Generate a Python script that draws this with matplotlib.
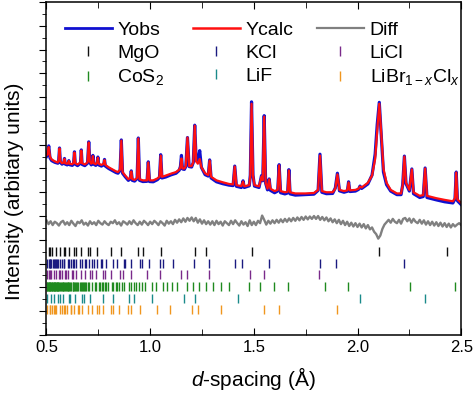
import matplotlib
matplotlib.use("Agg")
import matplotlib.pyplot as plt
from matplotlib.lines import Line2D
from matplotlib.ticker import MultipleLocator

plt.rcParams['font.family'] = ['Liberation Sans', 'DejaVu Sans']
plt.rcParams['mathtext.fontset'] = 'custom'
plt.rcParams['mathtext.rm'] = 'Liberation Sans'
plt.rcParams['mathtext.it'] = 'Liberation Sans:italic'

# profile: d-spacing (A), calculated and observed intensity (arb.)
d_prof = [0.500, 0.505, 0.511, 0.517, 0.525, 0.540, 0.555, 0.559, 0.563, 0.567,
          0.575, 0.583, 0.587, 0.591, 0.600, 0.605, 0.608, 0.611, 0.625, 0.631,
          0.635, 0.639, 0.650, 0.664, 0.668, 0.672, 0.685, 0.698, 0.704, 0.709,
          0.716, 0.720, 0.724, 0.728, 0.738, 0.744, 0.748, 0.752, 0.765, 0.776,
          0.780, 0.784, 0.800, 0.820, 0.835, 0.845, 0.855, 0.861, 0.867, 0.880,
          0.895, 0.904, 0.909, 0.914, 0.925, 0.937, 0.943, 0.949, 0.965, 0.985,
          0.991, 0.997, 1.015, 1.035, 1.045, 1.051, 1.057, 1.075, 1.100, 1.125,
          1.140, 1.146, 1.151, 1.156, 1.165, 1.172, 1.180, 1.188, 1.200, 1.208,
          1.215, 1.222, 1.230, 1.239, 1.247, 1.265, 1.280, 1.287, 1.294, 1.320,
          1.350, 1.380, 1.400, 1.408, 1.416, 1.440, 1.448, 1.454, 1.478, 1.483,
          1.489, 1.496, 1.503, 1.525, 1.537, 1.543, 1.550, 1.557, 1.566, 1.574,
          1.580, 1.600, 1.615, 1.622, 1.629, 1.650, 1.663, 1.669, 1.675, 1.700,
          1.750, 1.790, 1.810, 1.819, 1.828, 1.850, 1.880, 1.893, 1.903, 1.913,
          1.935, 1.951, 1.957, 1.963, 1.990, 2.005, 2.012, 2.020, 2.050, 2.070,
          2.085, 2.095, 2.105, 2.115, 2.125, 2.140, 2.160, 2.190, 2.210, 2.218,
          2.226, 2.234, 2.250, 2.262, 2.270, 2.300, 2.317, 2.326, 2.335, 2.380,
          2.420, 2.460, 2.470, 2.476, 2.482, 2.500]

y_calc = [7.55, 7.60, 7.90, 7.50, 7.38, 7.30, 7.25, 7.35, 7.84, 7.30,
          7.22, 7.25, 7.40, 7.22, 7.20, 7.22, 7.32, 7.20, 7.18, 7.25,
          7.67, 7.22, 7.17, 7.25, 7.75, 7.22, 7.17, 7.25, 8.09, 7.30,
          7.20, 7.25, 7.52, 7.22, 7.18, 7.25, 7.45, 7.20, 7.15, 7.20,
          7.35, 7.15, 7.05, 6.95, 6.88, 6.85, 6.95, 8.17, 6.85, 6.70,
          6.55, 6.60, 6.87, 6.55, 6.52, 6.60, 8.26, 6.55, 6.50, 6.50,
          7.25, 6.50, 6.50, 6.58, 6.65, 7.54, 6.65, 6.70, 6.78, 6.85,
          6.95, 7.05, 7.42, 7.00, 7.00, 7.10, 8.30, 7.10, 7.10, 7.25,
          8.80, 7.30, 7.20, 7.40, 7.05, 6.80, 6.72, 7.33, 6.65, 6.50,
          6.42, 6.35, 6.33, 7.08, 6.30, 6.26, 6.45, 6.25, 6.30, 6.70,
          9.72, 6.70, 6.30, 6.25, 6.66, 6.50, 9.18, 6.40, 6.15, 6.54,
          6.15, 6.05, 6.10, 7.13, 6.05, 6.00, 6.02, 6.92, 6.00, 5.95,
          5.95, 5.97, 6.10, 7.54, 6.05, 6.00, 6.00, 6.15, 6.75, 6.10,
          6.05, 6.08, 6.41, 6.08, 6.10, 6.15, 6.24, 6.20, 6.40, 6.70,
          7.40, 8.60, 9.72, 8.40, 7.00, 6.40, 6.10, 5.95, 5.95, 6.30,
          7.50, 6.40, 6.10, 6.96, 6.00, 5.85, 5.88, 7.00, 5.85, 5.75,
          5.68, 5.62, 5.75, 6.83, 5.70, 5.55]

y_obs = [7.50, 7.58, 7.95, 7.45, 7.33, 7.26, 7.22, 7.33, 7.86, 7.26,
         7.18, 7.22, 7.42, 7.18, 7.15, 7.20, 7.33, 7.16, 7.13, 7.22,
         7.70, 7.18, 7.12, 7.22, 7.78, 7.17, 7.12, 7.22, 8.12, 7.26,
         7.15, 7.22, 7.55, 7.18, 7.13, 7.22, 7.48, 7.15, 7.10, 7.16,
         7.38, 7.10, 7.00, 6.90, 6.83, 6.80, 6.92, 8.20, 6.80, 6.65,
         6.50, 6.57, 6.90, 6.50, 6.47, 6.57, 8.28, 6.50, 6.45, 6.46,
         7.28, 6.45, 6.44, 6.53, 6.62, 7.58, 6.60, 6.64, 6.73, 6.80,
         6.92, 7.08, 7.55, 6.98, 6.96, 7.08, 8.30, 7.08, 7.06, 7.25,
         8.82, 7.32, 7.30, 7.75, 7.05, 6.74, 6.68, 7.36, 6.60, 6.44,
         6.36, 6.30, 6.28, 7.10, 6.25, 6.20, 6.48, 6.20, 6.27, 6.72,
         9.80, 6.72, 6.26, 6.20, 6.70, 6.48, 9.22, 6.38, 6.10, 6.56,
         6.08, 5.98, 6.05, 7.16, 5.98, 5.93, 5.97, 6.95, 5.93, 5.88,
         5.90, 5.92, 6.08, 7.60, 6.00, 5.94, 5.95, 6.18, 6.80, 6.06,
         6.00, 6.04, 6.44, 6.03, 6.05, 6.12, 6.26, 6.16, 6.35, 6.72,
         7.60, 8.85, 9.78, 8.30, 6.85, 6.32, 6.05, 5.90, 5.90, 6.32,
         7.52, 6.36, 6.05, 6.98, 5.94, 5.78, 5.82, 7.02, 5.78, 5.68,
         5.60, 5.55, 5.72, 6.85, 5.64, 5.48]

# difference curve (offset), sampled every 0.01 A from 0.50 to 2.50
d_diff = [round(0.50 + 0.01 * i, 2) for i in range(201)]
y_diff = [4.82, 4.66, 4.78, 4.62, 4.76, 4.70, 4.60, 4.74, 4.80, 4.64,
          4.74, 4.62, 4.80, 4.68, 4.58, 4.76, 4.70, 4.82, 4.64, 4.72,
          4.60, 4.78, 4.66, 4.74, 4.62, 4.80, 4.70, 4.64, 4.78, 4.68,
          4.62, 4.76, 4.70, 4.82, 4.66, 4.74, 4.60, 4.78, 4.72, 4.64,
          4.78, 4.66, 4.82, 4.70, 4.62, 4.76, 4.64, 4.80, 4.72, 4.62,
          4.76, 4.66, 4.80, 4.72, 4.62, 4.78, 4.70, 4.60, 4.80, 4.68,
          4.78, 4.66, 4.84, 4.72, 4.86, 4.74, 4.90, 4.76, 4.92, 4.80,
          4.94, 4.78, 4.92, 4.72, 4.86, 4.68, 4.82, 4.66, 4.78, 4.64,
          4.78, 4.62, 4.80, 4.66, 4.76, 4.60, 4.78, 4.70, 4.62, 4.80,
          4.66, 4.82, 4.70, 4.60, 4.78, 4.64, 4.74, 4.58, 4.82, 4.62,
          4.76, 4.62, 4.80, 4.70, 5.02, 4.84, 4.64, 4.80, 4.68, 4.82,
          4.70, 4.84, 4.72, 4.86, 4.74, 4.88, 4.76, 4.90, 4.78, 4.92,
          4.80, 4.94, 4.82, 4.96, 4.84, 4.98, 4.86, 4.98, 4.88, 5.00,
          4.88, 5.00, 4.84, 4.96, 4.82, 4.94, 4.78, 4.90, 4.74, 4.86,
          4.70, 4.84, 4.66, 4.80, 4.62, 4.76, 4.58, 4.72, 4.56, 4.70,
          4.54, 4.68, 4.52, 4.66, 4.48, 4.62, 4.44, 4.52, 4.34, 4.24,
          4.05, 4.18, 4.46, 4.64, 4.74, 4.84, 4.72, 4.88, 4.76, 4.70,
          4.84, 4.68, 4.88, 4.92, 4.78, 4.90, 4.72, 4.88, 4.76, 4.70,
          4.84, 4.68, 4.82, 4.64, 4.78, 4.62, 4.76, 4.60, 4.74, 4.58,
          4.72, 4.56, 4.70, 4.54, 4.68, 4.52, 4.66, 4.56, 4.64, 4.70,
          4.62]

# reflection positions (A) for each phase
mgo_d = [2.432, 2.106, 1.489, 1.270, 1.216, 1.053, 0.966, 0.942, 0.860, 0.811,
         0.745, 0.712, 0.702, 0.666, 0.642, 0.635, 0.608, 0.590, 0.584, 0.563,
         0.548, 0.527, 0.515, 0.511]
kcl_d = [2.225, 1.897, 1.817, 1.573, 1.444, 1.407, 1.285, 1.211, 1.112, 1.064,
         1.049, 0.995, 0.960, 0.949, 0.908, 0.881, 0.873, 0.841, 0.819, 0.787,
         0.769, 0.763, 0.742, 0.727, 0.722, 0.704, 0.691, 0.687, 0.671, 0.660,
         0.642, 0.632, 0.629, 0.617, 0.608, 0.606, 0.587, 0.584, 0.574, 0.567,
         0.556, 0.550, 0.548, 0.540, 0.534, 0.532, 0.524, 0.519, 0.517, 0.510,
         0.505]
licl_d = [1.814, 1.547, 1.481, 1.283, 1.177, 1.147, 1.047, 0.987, 0.907, 0.867,
          0.855, 0.811, 0.782, 0.773, 0.740, 0.718, 0.711, 0.686, 0.668, 0.641,
          0.627, 0.622, 0.605, 0.592, 0.588, 0.574, 0.563, 0.560, 0.547, 0.538,
          0.524, 0.516, 0.513, 0.503]
cos2_d = [2.470, 2.255, 1.953, 1.841, 1.666, 1.595, 1.532, 1.476, 1.381, 1.340,
          1.302, 1.267, 1.235, 1.205, 1.178, 1.128, 1.105, 1.083, 1.063, 1.026,
          1.009, 0.977, 0.962, 0.947, 0.934, 0.921, 0.908, 0.896, 0.873, 0.863,
          0.852, 0.842, 0.833, 0.823, 0.814, 0.797, 0.789, 0.781, 0.774, 0.766,
          0.759, 0.752, 0.738, 0.732, 0.719, 0.707, 0.702, 0.691, 0.685, 0.680,
          0.675, 0.670, 0.665, 0.660, 0.651, 0.647, 0.642, 0.638, 0.634, 0.630,
          0.626, 0.618, 0.614, 0.610, 0.606, 0.603, 0.599, 0.596, 0.589, 0.586,
          0.582, 0.579, 0.573, 0.570, 0.564, 0.561, 0.558, 0.555, 0.552, 0.550,
          0.547, 0.542, 0.539, 0.537, 0.534, 0.532, 0.529, 0.527, 0.520, 0.517,
          0.515, 0.513, 0.511, 0.509, 0.504, 0.502]
lif_d = [2.325, 2.014, 1.424, 1.214, 1.163, 1.007, 0.924, 0.900, 0.822, 0.775,
         0.712, 0.681, 0.671, 0.637, 0.614, 0.607, 0.581, 0.564, 0.558, 0.538,
         0.524, 0.503]
libr_d = [1.899, 1.619, 1.550, 1.343, 1.232, 1.201, 1.096, 1.034, 0.949, 0.908,
          0.895, 0.849, 0.819, 0.810, 0.775, 0.752, 0.745, 0.718, 0.699, 0.671,
          0.656, 0.651, 0.633, 0.620, 0.616, 0.601, 0.590, 0.586, 0.573, 0.563,
          0.548, 0.540, 0.537, 0.527, 0.519, 0.517, 0.501]

phase_names = ['MgO', 'KCl', 'LiCl', 'CoS$_2$', 'LiF',
               'LiBr$_{\\mathregular{1-}x}$Cl$_x$']
phase_refl = [mgo_d, kcl_d, licl_d, cos2_d, lif_d, libr_d]
phase_rows = [3.50, 3.02, 2.56, 2.04, 1.55, 1.06]
phase_cols = ['#111111', '#1a1a80', '#7a2a8a', '#1f8a1f', '#1a8a8a', '#f0961e']

obs_col, calc_col, diff_col = '#1010d0', '#ff1010', '#808080'

fig = plt.figure(figsize=(4.74, 3.95), dpi=100)
ax = fig.add_axes([0.098, 0.152, 0.875, 0.843])

ax.plot(d_prof, y_obs, color=obs_col, lw=2.3)
ax.plot(d_prof, y_calc, color=calc_col, lw=1.6)
ax.plot(d_diff, y_diff, color=diff_col, lw=1.7)

for refl, yr, col in zip(phase_refl, phase_rows, phase_cols):
    ax.vlines(refl, yr - 0.19, yr + 0.19, color=col, lw=1.0)

ax.set_xlim(0.5, 2.5)
ax.set_ylim(0, 14)
ax.xaxis.set_major_locator(MultipleLocator(0.5))
ax.xaxis.set_minor_locator(MultipleLocator(0.25))
ax.yaxis.set_major_locator(MultipleLocator(1))
ax.yaxis.set_minor_locator(MultipleLocator(0.5))
ax.set_yticklabels([])
ax.tick_params(axis='x', which='both', direction='in', top=True, labelsize=12)
ax.tick_params(axis='x', which='major', length=5)
ax.tick_params(axis='x', which='minor', length=4)
ax.tick_params(axis='y', which='major', direction='out', length=5)
ax.tick_params(axis='y', which='minor', direction='out', length=3)
for sp in ax.spines.values():
    sp.set_linewidth(1.1)

ax.set_xlabel('$d$-spacing (Å)', fontsize=15, labelpad=7)
ax.set_ylabel('Intensity (arbitary units)', fontsize=15)
ax.yaxis.set_label_coords(-0.055, 0.43)

# legend: three columns placed individually
line_h = [Line2D([], [], color=obs_col, lw=2.0),
          Line2D([], [], color=calc_col, lw=1.8),
          Line2D([], [], color=diff_col, lw=1.6)]
tick_h = [Line2D([], [], marker='|', ls='none', color=c, markersize=7, mew=1.0)
          for c in phase_cols]
columns = [([line_h[0], tick_h[0], tick_h[3]], ['Yobs', phase_names[0], phase_names[3]]),
           ([line_h[1], tick_h[1], tick_h[4]], ['Ycalc', phase_names[1], phase_names[4]]),
           ([line_h[2], tick_h[2], tick_h[5]], ['Diff', phase_names[2], phase_names[5]])]
col_x = [0.0446, 0.3534, 0.6526]
for i, ((hs, ls), x0) in enumerate(zip(columns, col_x)):
    leg = ax.legend(hs, ls, loc='upper left', bbox_to_anchor=(x0, 0.942),
                    frameon=False, fontsize=14, handlelength=2.4,
                    handletextpad=0.3, labelspacing=0.28, borderpad=0,
                    borderaxespad=0)
    if i < len(columns) - 1:
        ax.add_artist(leg)

fig.savefig('out.png', dpi=100)
